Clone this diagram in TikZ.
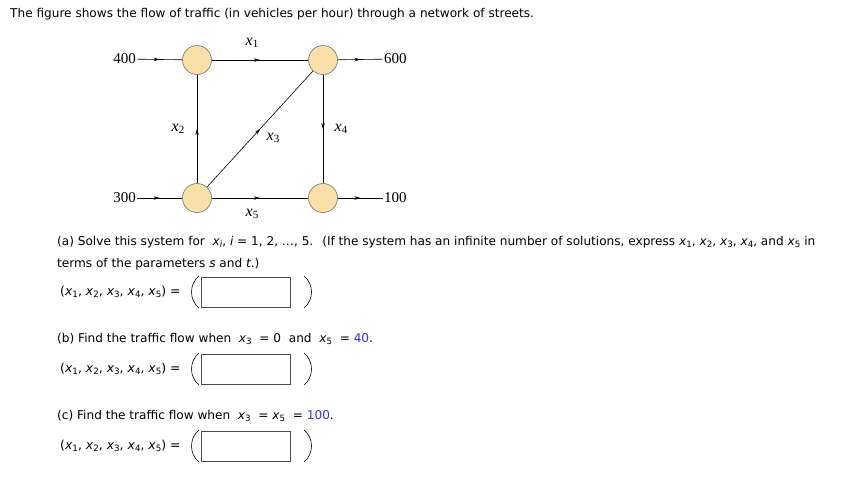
\documentclass[tikz,border=0pt]{standalone}
\usepackage{fontspec}
\setmainfont{DejaVu Sans}
\newfontfamily\tms{Liberation Serif}
\usetikzlibrary{arrows.meta,decorations.markings}
\definecolor{nodefill}{HTML}{FADFA8}
\definecolor{ansblue}{HTML}{3333CC}
\tikzset{
  junction/.style={circle,draw=black!55,fill=nodefill,minimum size=29pt,inner sep=0pt,line width=0.6pt},
  street/.style={line width=0.6pt,postaction={decorate},decoration={markings,mark=at position 0.5 with {\arrow{Stealth[length=6pt,width=3.5pt]}}}},
  flow/.style={font=\tms\fontsize{15}{15}\selectfont},
  var/.style={font=\tms\itshape\fontsize{16}{16}\selectfont},
  txt/.style={anchor=west,inner sep=0pt,font=\fontsize{12.1}{13}\selectfont},
  ansbox/.style={draw=black!70,line width=0.6pt,minimum width=89pt,minimum height=30pt,inner sep=0pt},
}
\newcommand{\xv}[1]{\textit{x}\raisebox{-0.3ex}{\fontsize{8.7}{8.7}\selectfont #1}}
\begin{document}
\begin{tikzpicture}[x=1pt,y=-1pt]
\useasboundingbox (0,0) rectangle (854,483);
\node[txt] (title) at (10,14) {The figure shows the flow of traffic (in vehicles per hour) through a network of streets.};
% network
\node[junction] (a) at (197,60) {};
\node[junction] (b) at (323,60) {};
\node[junction] (c) at (197,198) {};
\node[junction] (d) at (323,198) {};
\node[flow,anchor=east,inner sep=1pt] (n400) at (137,59) {400};
\node[flow,anchor=west,inner sep=1pt] (n600) at (383,59) {600};
\node[flow,anchor=east,inner sep=1pt] (n300) at (137,198) {300};
\node[flow,anchor=west,inner sep=1pt] (n100) at (383,198) {100};
\draw[street] (n400) -- (a);
\draw[street] (b) -- (n600);
\draw[street] (n300) -- (c);
\draw[street] (d) -- (n100);
\draw[street] (a) -- (b);
\draw[street] (c) -- (a);
\draw[street] (c) -- (b);
\draw[street] (b) -- (d);
\draw[street] (c) -- (d);
\node[var] (x1) at (252,43) {x\raisebox{-0.3ex}{\fontsize{11}{11}\selectfont\upshape 1}};
\node[var] (x2) at (178,129) {x\raisebox{-0.3ex}{\fontsize{11}{11}\selectfont\upshape 2}};
\node[var] (x3) at (273,138) {x\raisebox{-0.3ex}{\fontsize{11}{11}\selectfont\upshape 3}};
\node[var] (x4) at (341,129) {x\raisebox{-0.3ex}{\fontsize{11}{11}\selectfont\upshape 4}};
\node[var] (x5) at (252,214) {x\raisebox{-0.3ex}{\fontsize{11}{11}\selectfont\upshape 5}};
% part a
\node[txt] (pa) at (57,242) {(a) Solve this system for \ \textit{x}\raisebox{-0.3ex}{\fontsize{8.7}{8.7}\selectfont\textit{i}}, \textit{i} = 1, 2, \dots, 5. \ (If the system has an infinite number of solutions, express \xv1, \xv2, \xv3, \xv4, and \xv5 in};
\node[txt] (pa2) at (57,264) {terms of the parameters \textit{s} and \textit{t}.)};
\foreach \n/\y in {ea/292,eb/369,ec/446}{
  \node[txt,font=\fontsize{12.4}{13}\selectfont] (\n) at (60,\y) {(\xv1, \xv2, \xv3, \xv4, \xv5) =};
  \node[ansbox] (\n box) at (246,\y) {};
  \draw[line width=0.6pt] (199,\y-16) .. controls (189,\y-8) and (189,\y+8) .. (199,\y+16);
  \draw[line width=0.6pt] (304,\y-16) .. controls (314,\y-8) and (314,\y+8) .. (304,\y+16);
}
\node[txt] (pb) at (57,339) {(b) Find the traffic flow when \ \xv3 \ = 0 \ and \ \xv5 \ = \textcolor{ansblue}{40}.};
\node[txt] (pc) at (57,416) {(c) Find the traffic flow when \ \xv3 \ = \xv5 \ = \textcolor{ansblue}{100}.};
\end{tikzpicture}
\end{document}
